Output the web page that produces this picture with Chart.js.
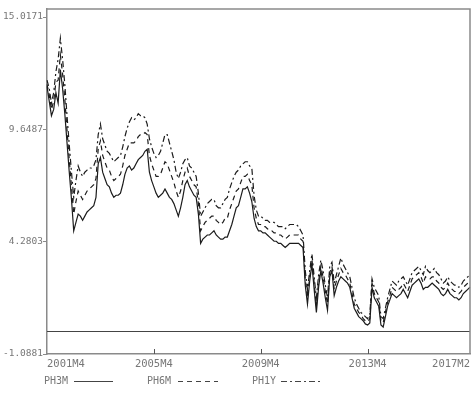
<!DOCTYPE html>
<html>
<head>
<meta charset="utf-8">
<script src="https://cdn.jsdelivr.net/npm/chart.js@4.4.0/dist/chart.umd.min.js"></script>
<style>
  body { margin: 0; background: #fff; }
  canvas { display: block; }
</style>
</head>
<body>
<canvas id="chart" width="474" height="404"></canvas>
<script>
// Monthly series, 2001M4 .. 2017M2 (one row per year, starting in April)
const startYear = 2001;
const startMonth = 4;
const tickLabels = ['2001M4', '2005M4', '2009M4', '2013M4', '2017M2'];
const yTicks = [-1.0881, 4.2803, 9.6487, 15.0171];
const seriesNames = ['PH3M', 'PH6M', 'PH1Y'];

const ph3m = [
    11.7, 11.0, 10.3, 10.6, 11.4, 10.9, 12.5, 11.6, 10.4, 9.0, 7.6, 6.3,
    4.8, 5.2, 5.6, 5.5, 5.3, 5.5, 5.7, 5.8, 5.9, 6.0, 6.4, 8.0,
    8.3, 7.6, 7.3, 7.0, 6.9, 6.6, 6.4, 6.5, 6.5, 6.6, 7.0, 7.5,
    7.8, 7.9, 7.7, 7.8, 8.0, 8.2, 8.3, 8.4, 8.6, 8.7, 7.6, 7.2,
    6.9, 6.6, 6.4, 6.5, 6.6, 6.8, 6.6, 6.4, 6.3, 6.1, 5.8, 5.5,
    5.9, 6.4, 7.0, 7.2, 6.9, 6.7, 6.5, 6.4, 5.6, 4.2, 4.4, 4.5,
    4.6, 4.6, 4.7, 4.8, 4.6, 4.5, 4.4, 4.4, 4.5, 4.5, 4.8, 5.1,
    5.5, 5.9, 6.0, 6.4, 6.8, 6.8, 6.9, 6.6, 6.2, 5.4, 5.0, 4.8,
    4.8, 4.7, 4.7, 4.6, 4.5, 4.4, 4.3, 4.3, 4.2, 4.2, 4.1, 4.0,
    4.1, 4.2, 4.2, 4.2, 4.2, 4.2, 4.1, 4.0, 2.2, 1.3, 2.4, 3.2,
    2.0, 0.9, 2.1, 2.9, 2.3, 1.6, 1.0, 2.6, 2.9, 1.7, 2.1, 2.4,
    2.6, 2.5, 2.4, 2.3, 2.1, 1.6, 1.1, 0.9, 0.7, 0.6, 0.5, 0.35,
    0.3, 0.4, 2.1, 1.6, 1.4, 1.2, 0.3, 0.2, 0.7, 1.2, 1.5, 1.8,
    1.7, 1.6, 1.7, 1.8, 2.0, 1.8, 1.6, 1.9, 2.2, 2.3, 2.4, 2.5,
    2.3, 2.0, 2.1, 2.1, 2.2, 2.3, 2.2, 2.1, 2.0, 1.8, 1.7, 1.8,
    2.0, 1.8, 1.7, 1.6, 1.6, 1.5, 1.6, 1.8, 1.9, 2.0, 2.1
];

const ph6m = [
    11.8, 11.3, 10.6, 11.0, 11.9, 12.0, 13.2, 12.3, 11.1, 9.6, 8.2, 6.9,
    5.6, 6.2, 6.7, 6.5, 6.3, 6.5, 6.7, 6.8, 6.9, 7.0, 7.3, 8.7,
    9.1, 8.4, 8.1, 7.8, 7.7, 7.4, 7.2, 7.3, 7.4, 7.5, 7.9, 8.4,
    8.7, 9.0, 9.0, 9.0, 9.1, 9.3, 9.4, 9.4, 9.5, 9.4, 8.4, 8.0,
    7.7, 7.4, 7.4, 7.5, 7.8, 8.1, 8.0, 7.7, 7.4, 7.1, 6.7, 6.4,
    6.7, 7.2, 7.6, 7.8, 7.4, 7.2, 7.0, 6.9, 6.1, 4.8, 5.0, 5.2,
    5.3, 5.4, 5.5, 5.5, 5.3, 5.2, 5.1, 5.2, 5.4, 5.4, 5.8, 6.1,
    6.4, 6.7, 6.8, 7.1, 7.4, 7.4, 7.5, 7.2, 7.0, 5.9, 5.4, 5.1,
    5.1, 5.0, 5.0, 4.9, 4.8, 4.8, 4.7, 4.7, 4.6, 4.6, 4.5, 4.4,
    4.5, 4.6, 4.6, 4.6, 4.6, 4.6, 4.4, 4.3, 2.5, 1.6, 2.6, 3.4,
    2.3, 1.2, 2.4, 3.1, 2.6, 1.9, 1.3, 2.8, 3.1, 2.0, 2.4, 2.7,
    3.0, 2.8, 2.7, 2.5, 2.3, 1.8, 1.3, 1.1, 0.9, 0.8, 0.6, 0.5,
    0.45, 0.6, 2.3, 1.8, 1.6, 1.4, 0.5, 0.4, 0.9, 1.4, 1.7, 2.1,
    2.0, 1.9, 2.0, 2.1, 2.3, 2.1, 1.9, 2.2, 2.5, 2.6, 2.7, 2.8,
    2.6, 2.3, 2.6, 2.5, 2.5, 2.6, 2.6, 2.4, 2.3, 2.1, 2.0, 2.1,
    2.3, 2.1, 2.0, 1.9, 1.9, 1.8, 1.9, 2.1, 2.2, 2.3, 2.4
];

const ph1y = [
    12.0, 11.6, 10.9, 11.4, 12.4, 13.0, 14.0, 13.0, 11.8, 10.3, 8.9, 7.6,
    6.4, 7.2, 7.9, 7.6, 7.4, 7.6, 7.7, 7.8, 7.8, 7.9, 8.2, 9.4,
    9.9, 9.2, 8.9, 8.6, 8.5, 8.3, 8.1, 8.2, 8.3, 8.4, 8.8, 9.3,
    9.7, 10.0, 10.2, 10.1, 10.2, 10.4, 10.3, 10.3, 10.2, 9.9, 9.2, 8.8,
    8.5, 8.3, 8.4, 8.6, 9.0, 9.4, 9.4, 9.0, 8.6, 8.2, 7.6, 7.3,
    7.6, 8.0, 8.2, 8.3, 7.9, 7.8, 7.6, 7.4, 6.6, 5.5, 5.7, 5.9,
    6.1, 6.2, 6.3, 6.3, 6.0, 5.9, 5.9, 6.1, 6.3, 6.4, 6.8, 7.1,
    7.4, 7.6, 7.7, 7.9, 8.0, 8.1, 8.1, 7.9, 7.8, 6.5, 5.8, 5.5,
    5.5, 5.4, 5.3, 5.3, 5.2, 5.2, 5.2, 5.1, 5.0, 5.0, 5.0, 4.9,
    5.0, 5.1, 5.1, 5.1, 5.1, 5.0, 4.8, 4.6, 2.9, 2.0, 2.9, 3.7,
    2.6, 1.6, 2.7, 3.4, 2.9, 2.2, 1.6, 3.1, 3.3, 2.3, 2.7, 3.1,
    3.5, 3.2, 3.0, 2.8, 2.6, 2.1, 1.6, 1.3, 1.1, 0.9, 0.8, 0.7,
    0.6, 0.8, 2.5, 2.1, 1.9, 1.7, 0.7, 0.6, 1.1, 1.6, 2.0, 2.4,
    2.3, 2.2, 2.4, 2.5, 2.6, 2.4, 2.2, 2.5, 2.8, 2.9, 3.0, 3.1,
    2.9, 2.7, 3.1, 2.9, 2.8, 2.9, 3.0, 2.8, 2.7, 2.5, 2.3, 2.4,
    2.6, 2.4, 2.3, 2.2, 2.2, 2.1, 2.2, 2.4, 2.5, 2.6, 2.7
];

// Month labels like 2001M4
const months = [];
for (let i = 0; i < ph3m.length; i++) {
    const t = startMonth - 1 + i;
    months.push((startYear + Math.floor(t / 12)) + 'M' + (t % 12 + 1));
}

const lineColor = '#1c1c1c';
const axisColor = '#8a8a8a';
const textColor = '#777';
const dashes = [[], [5, 4], [6, 3, 2, 3]];

// Box, zero line, inner x ticks and the legend row
const framePlugin = {
    id: 'frame',
    beforeDatasetsDraw(chart) {
        const { ctx, chartArea: a, scales: { y } } = chart;
        const y0 = Math.round(y.getPixelForValue(0)) + 0.5;
        ctx.save();
        ctx.strokeStyle = '#444';
        ctx.lineWidth = 1;
        ctx.beginPath();
        ctx.moveTo(a.left, y0);
        ctx.lineTo(a.right, y0);
        ctx.stroke();
        ctx.restore();
    },
    afterDraw(chart) {
        const { ctx, chartArea: a, scales: { x } } = chart;
        ctx.save();
        ctx.strokeStyle = axisColor;
        ctx.lineWidth = 1.5;
        ctx.beginPath();
        ctx.moveTo(a.left, a.top);
        ctx.lineTo(a.right, a.top);
        ctx.lineTo(a.right, a.bottom);
        ctx.stroke();

        ctx.strokeStyle = '#555';
        ctx.lineWidth = 1;
        tickLabels.slice(1, -1).forEach(l => {
            const px = Math.round(x.getPixelForValue(months.indexOf(l))) + 0.5;
            ctx.beginPath();
            ctx.moveTo(px, a.bottom);
            ctx.lineTo(px, a.bottom - 5);
            ctx.stroke();
        });

        // Legend: name first, then a line sample
        const legendY = 381.5;
        const spots = [[44, 74, 113], [147, 178, 218], [252, 281, 321]];
        ctx.font = '10px "DejaVu Sans Mono"';
        ctx.textBaseline = 'middle';
        ctx.fillStyle = textColor;
        seriesNames.forEach((name, i) => {
            const [tx, l0, l1] = spots[i];
            ctx.fillText(name, tx, legendY);
            ctx.strokeStyle = '#444';
            ctx.lineWidth = 1.2;
            ctx.setLineDash(dashes[i]);
            ctx.beginPath();
            ctx.moveTo(l0, legendY);
            ctx.lineTo(l1, legendY);
            ctx.stroke();
        });
        ctx.restore();
    }
};

new Chart(document.getElementById('chart'), {
    type: 'line',
    data: {
        labels: months,
        datasets: [ph3m, ph6m, ph1y].map((d, i) => ({
            label: seriesNames[i],
            data: d,
            borderColor: lineColor,
            borderWidth: 1.2,
            borderDash: dashes[i],
            pointRadius: 0,
            tension: 0
        }))
    },
    options: {
        responsive: false,
        animation: false,
        layout: { padding: { top: 9, right: 3, left: 0, bottom: 0 } },
        plugins: { legend: { display: false }, tooltip: { enabled: false } },
        scales: {
            x: {
                type: 'category',
                offset: false,
                grid: { drawOnChartArea: false, drawTicks: false },
                border: { color: axisColor, width: 1.5 },
                ticks: {
                    autoSkip: false,
                    maxRotation: 0,
                    align: 'inner',
                    padding: 4,
                    color: textColor,
                    font: { family: 'DejaVu Sans Mono', size: 10.5 },
                    callback(v) { return this.getLabelForValue(v); }
                },
                afterBuildTicks(s) { s.ticks = tickLabels.map(l => ({ value: months.indexOf(l) })); },
                afterFit(s) { s.height = 50; }
            },
            y: {
                min: -1.0881,
                max: 15.4,
                grid: { drawOnChartArea: false, drawTicks: true, tickLength: 4, color: axisColor },
                border: { color: axisColor, width: 1.5 },
                ticks: {
                    padding: 0,
                    color: textColor,
                    font: { family: 'DejaVu Sans Mono', size: 9.5 },
                    callback: v => v.toFixed(4)
                },
                afterBuildTicks(s) { s.ticks = yTicks.map(v => ({ value: v })); },
                afterFit(s) { s.width = 47; }
            }
        }
    },
    plugins: [framePlugin]
});
</script>
</body>
</html>
